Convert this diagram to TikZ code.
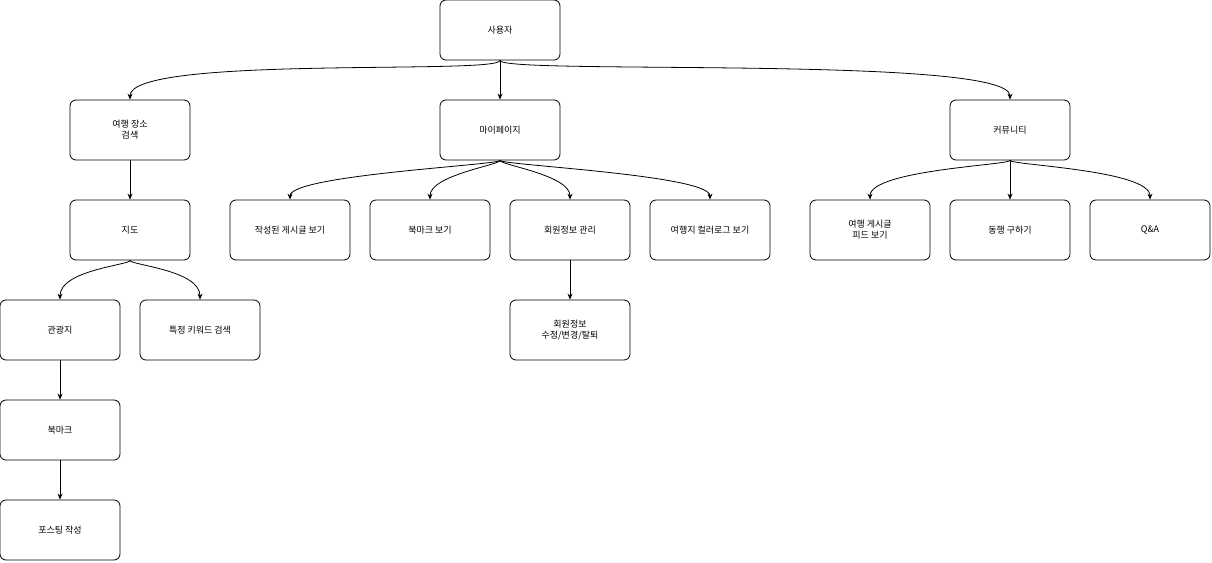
\documentclass[tikz,border=0pt]{standalone}
\usepackage{fontspec}
\setmainfont{Noto Sans CJK KR}
\usetikzlibrary{arrows.meta}
\begin{document}
\begin{tikzpicture}[x=1pt,y=-1pt,
  box/.style={draw,rounded corners=6pt,minimum width=120pt,minimum height=60pt,align=center,font=\fontsize{9}{11}\selectfont,line width=0.8pt},
  arr/.style={-{Stealth[length=6pt,width=5pt]},line width=0.8pt}]
\useasboundingbox (0,0) rectangle (1212,562);
\node[box] (u) at (500,30) {사용자};
\node[box] (s) at (130,130) {여행 장소\\검색};
\node[box] (m) at (500,130) {마이페이지};
\node[box] (c) at (1010,130) {커뮤니티};
\node[box] (map) at (130,230) {지도};
\node[box] (m1) at (290,230) {작성된 게시글 보기};
\node[box] (m2) at (430,230) {북마크 보기};
\node[box] (m3) at (570,230) {회원정보 관리};
\node[box] (m4) at (710,230) {여행지 컬러로그 보기};
\node[box] (c1) at (870,230) {여행 게시글\\피드 보기};
\node[box] (c2) at (1010,230) {동행 구하기};
\node[box] (c3) at (1150,230) {Q\&A};
\node[box] (t) at (60,330) {관광지};
\node[box] (k) at (200,330) {특정 키워드 검색};
\node[box] (e) at (570,330) {회원정보\\수정/변경/탈퇴};
\node[box] (b) at (60,430) {북마크};
\node[box] (p) at (60,530) {포스팅 작성};
\draw[arr] (u.south) .. controls (500,75) and (130,55) .. (s.north);
\draw[arr] (u.south) -- (m.north);
\draw[arr] (u.south) .. controls (500,75) and (1010,55) .. (c.north);
\draw[arr] (s.south) -- (map.north);
\draw[arr] (m.south) .. controls (500,165) and (290,175) .. (m1.north);
\draw[arr] (m.south) .. controls (500,165) and (430,175) .. (m2.north);
\draw[arr] (m.south) .. controls (500,165) and (570,175) .. (m3.north);
\draw[arr] (m.south) .. controls (500,165) and (710,175) .. (m4.north);
\draw[arr] (c.south) .. controls (1010,165) and (870,170) .. (c1.north);
\draw[arr] (c.south) -- (c2.north);
\draw[arr] (c.south) .. controls (1010,165) and (1150,170) .. (c3.north);
\draw[arr] (map.south) .. controls (130,265) and (60,270) .. (t.north);
\draw[arr] (map.south) .. controls (130,265) and (200,270) .. (k.north);
\draw[arr] (m3.south) -- (e.north);
\draw[arr] (t.south) -- (b.north);
\draw[arr] (b.south) -- (p.north);
\end{tikzpicture}
\end{document}
